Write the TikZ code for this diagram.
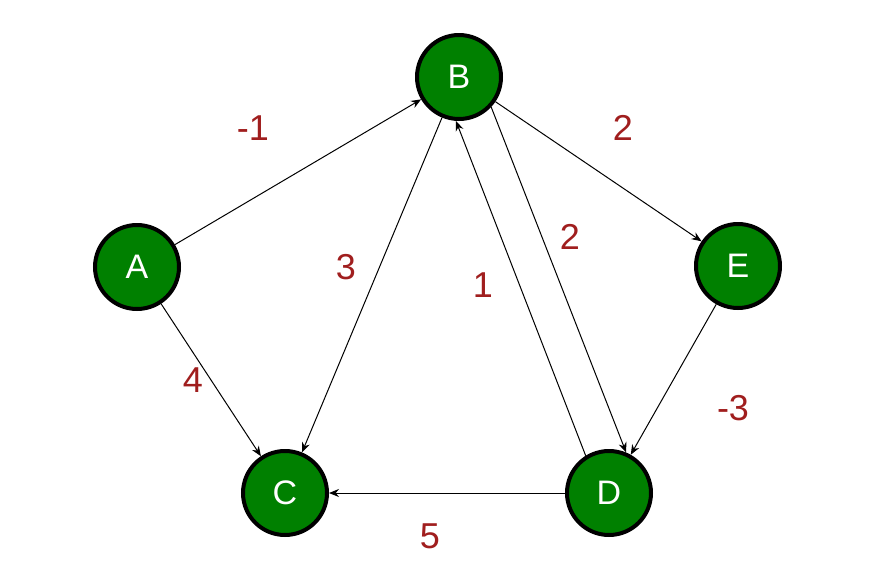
\documentclass[tikz,border=0pt]{standalone}
\usepackage{fontspec}
\setmainfont{Liberation Sans}
\usetikzlibrary{arrows.meta}
\definecolor{ng}{RGB}{0,128,0}
\definecolor{lr}{RGB}{160,30,30}
\begin{document}
\begin{tikzpicture}[x=1pt,y=-1pt,
  vert/.style={circle,draw=black,line width=4pt,fill=ng,minimum size=84pt,inner sep=0pt,text=white,font=\fontsize{34}{36}\selectfont},
  edge/.style={-{Stealth[length=10pt,width=8pt]},line width=1pt},
  wt/.style={text=lr,font=\fontsize{36}{38}\selectfont}]
\useasboundingbox (0,0) rectangle (887,587);
\node[vert] (A) at (137,267) {A};
\node[vert] (B) at (459,77) {B};
\node[vert] (E) at (738,266) {E};
\node[vert] (C) at (285,493) {C};
\node[vert] (D) at (609,493) {D};
\draw[edge] (A) -- (B);
\draw[edge] (B) -- (C);
\draw[edge] (A) -- (C);
\draw[edge] (B.-43) -- (D.67);
\draw[edge] (D.122) -- (B.-94);
\draw[edge] (B) -- (E);
\draw[edge] (E) -- (D);
\draw[edge] (D) -- (C);
\node[wt] (w1) at (253,128) {-1};
\node[wt] (w2) at (346,267) {3};
\node[wt] (w3) at (193,380) {4};
\node[wt] (w4) at (570,237) {2};
\node[wt] (w5) at (483,285) {1};
\node[wt] (w6) at (623,128) {2};
\node[wt] (w7) at (733,408) {-3};
\node[wt] (w8) at (430,536) {5};
\end{tikzpicture}
\end{document}
